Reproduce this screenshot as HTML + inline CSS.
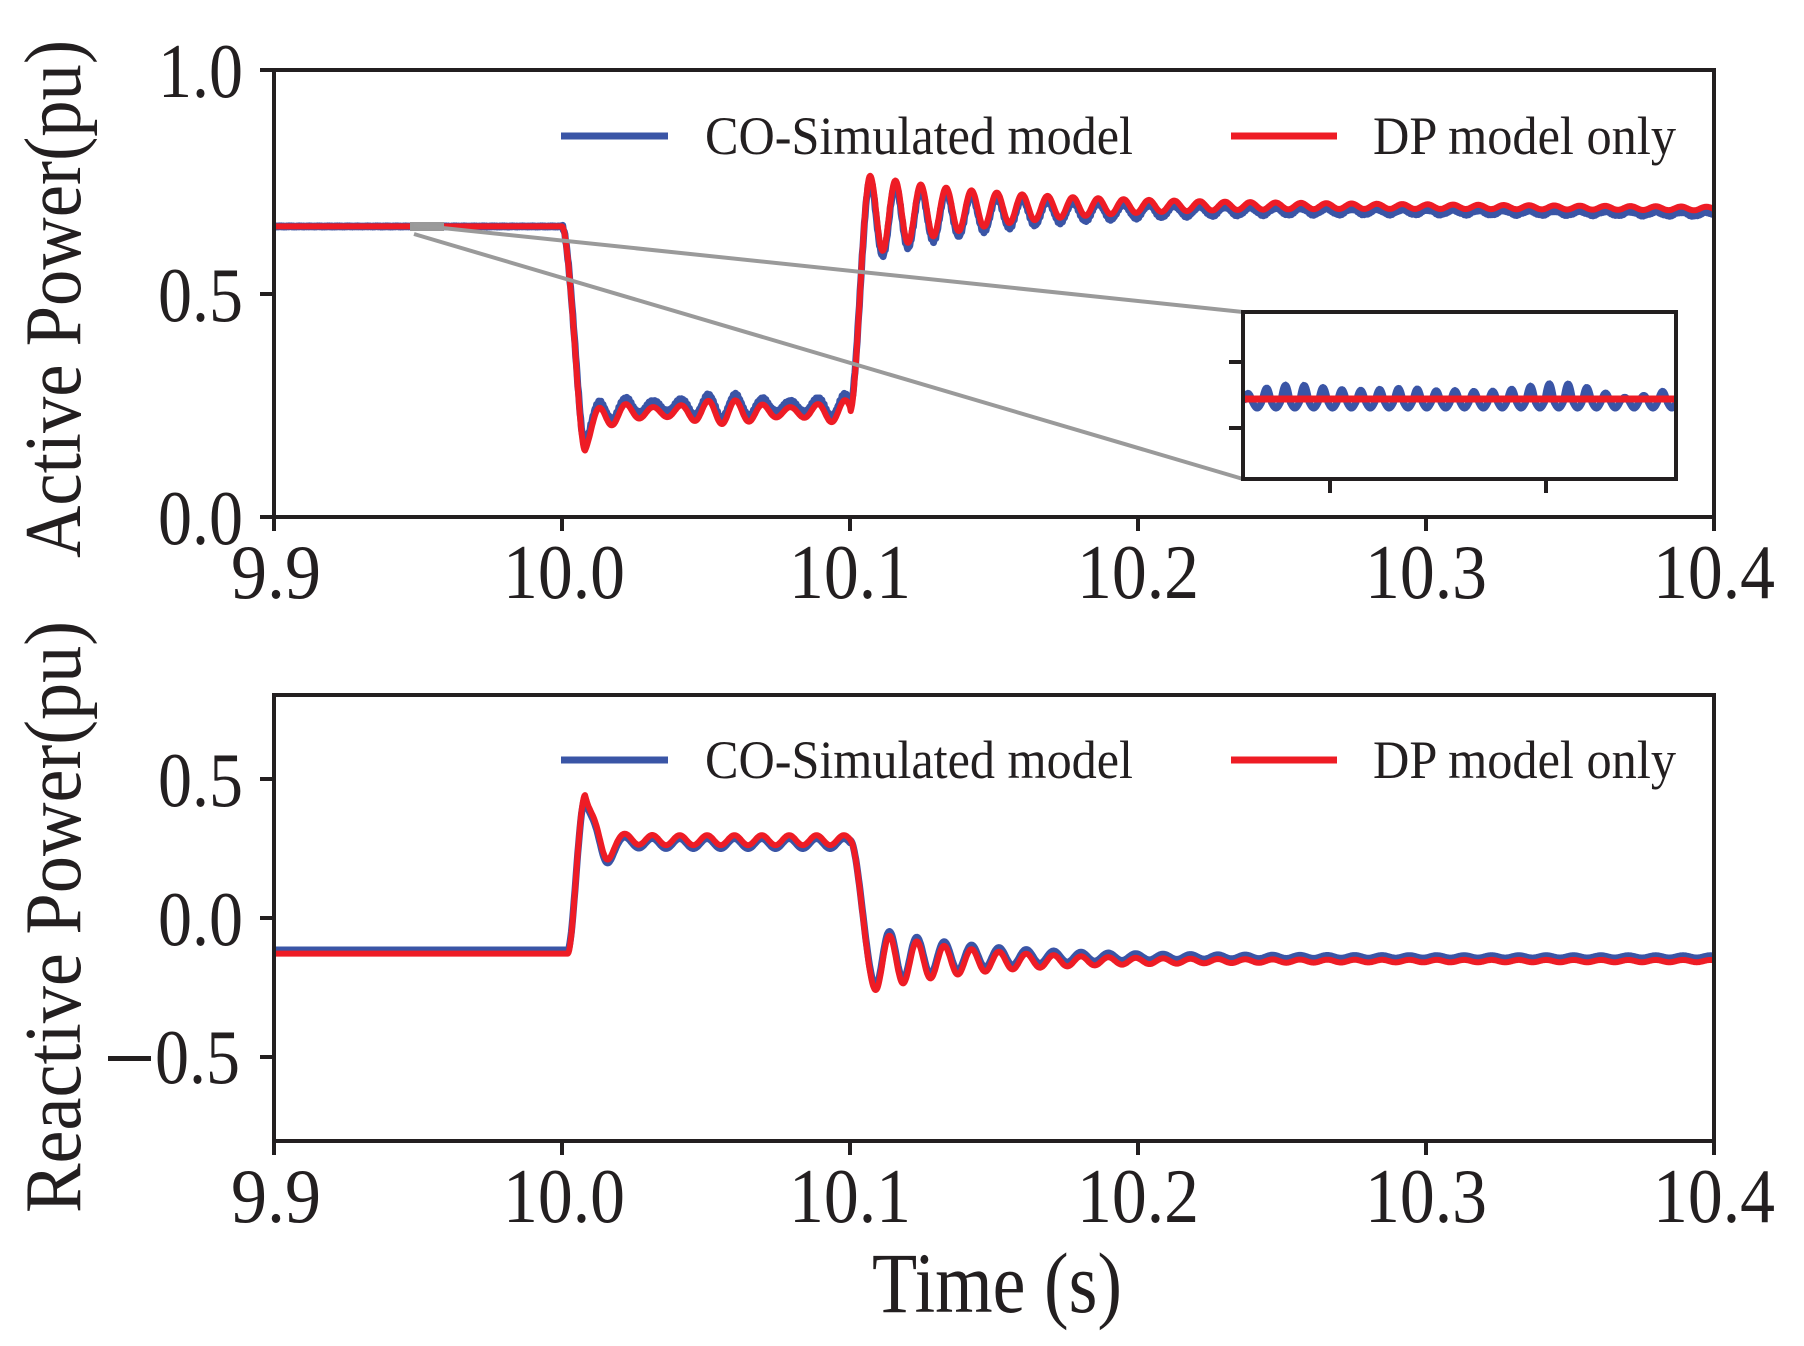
<!DOCTYPE html>
<html><head><meta charset="utf-8"><style>
html,body{margin:0;padding:0;background:#fff;}
svg{display:block;}
text{font-family:"Liberation Serif",serif;fill:#231f20;}
</style></head><body>
<svg id="s" width="1804" height="1346" viewBox="0 0 1804 1346" xmlns="http://www.w3.org/2000/svg">
<defs>
<clipPath id="c1"><rect x="274" y="70" width="1440" height="447"/></clipPath>
<clipPath id="c2"><rect x="274" y="695" width="1440" height="446"/></clipPath>
<clipPath id="c3"><rect x="1243" y="312" width="433" height="167"/></clipPath>
</defs>
<g id="plots"></g>
<rect x="410" y="222" width="34" height="9" fill="#999"/>
<line x1="414" y1="225" x2="1243" y2="312" stroke="#9a9a9a" stroke-width="4"/>
<line x1="414" y1="234" x2="1243" y2="479" stroke="#9a9a9a" stroke-width="4"/>
<rect x="1243" y="312" width="433" height="167" fill="#fff"/>
<g id="inset" clip-path="url(#c3)"></g>
<rect x="1243" y="312" width="433" height="167" fill="none" stroke="#231f20" stroke-width="4"/>
<g stroke="#231f20" stroke-width="4">
<line x1="1229" y1="362" x2="1243" y2="362"/><line x1="1229" y1="428" x2="1243" y2="428"/>
<line x1="1330" y1="479" x2="1330" y2="493"/><line x1="1546" y1="479" x2="1546" y2="493"/>
</g>
<rect x="274" y="70" width="1440" height="447" fill="none" stroke="#231f20" stroke-width="4"/>
<rect x="274" y="695" width="1440" height="446" fill="none" stroke="#231f20" stroke-width="4"/>
<g stroke="#231f20" stroke-width="4">
<line x1="260" y1="70" x2="274" y2="70"/><line x1="260" y1="294" x2="274" y2="294"/><line x1="260" y1="517" x2="274" y2="517"/>
<line x1="260" y1="779" x2="274" y2="779"/><line x1="260" y1="918" x2="274" y2="918"/><line x1="260" y1="1057" x2="274" y2="1057"/>
<line x1="274" y1="517" x2="274" y2="531"/><line x1="562" y1="517" x2="562" y2="531"/><line x1="850" y1="517" x2="850" y2="531"/><line x1="1138" y1="517" x2="1138" y2="531"/><line x1="1426" y1="517" x2="1426" y2="531"/><line x1="1714" y1="517" x2="1714" y2="531"/>
<line x1="274" y1="1141" x2="274" y2="1155"/><line x1="562" y1="1141" x2="562" y2="1155"/><line x1="850" y1="1141" x2="850" y2="1155"/><line x1="1138" y1="1141" x2="1138" y2="1155"/><line x1="1426" y1="1141" x2="1426" y2="1155"/><line x1="1714" y1="1141" x2="1714" y2="1155"/>
</g>
<g font-size="77" text-anchor="end">
<text x="243" y="97" textLength="85" lengthAdjust="spacingAndGlyphs">1.0</text><text x="243" y="321" textLength="85" lengthAdjust="spacingAndGlyphs">0.5</text><text x="243" y="544" textLength="85" lengthAdjust="spacingAndGlyphs">0.0</text>
<text x="243" y="806" textLength="85" lengthAdjust="spacingAndGlyphs">0.5</text><text x="243" y="945" textLength="85" lengthAdjust="spacingAndGlyphs">0.0</text><text x="240" y="1083" textLength="85" lengthAdjust="spacingAndGlyphs">0.5</text>
</g>
<rect x="108" y="1056" width="43" height="5" fill="#231f20"/>
<g font-size="77" text-anchor="middle">
<text x="276" y="598" textLength="90" lengthAdjust="spacingAndGlyphs">9.9</text><text x="564" y="598" textLength="122" lengthAdjust="spacingAndGlyphs">10.0</text><text x="850" y="598" textLength="122" lengthAdjust="spacingAndGlyphs">10.1</text><text x="1138" y="598" textLength="122" lengthAdjust="spacingAndGlyphs">10.2</text><text x="1426" y="598" textLength="122" lengthAdjust="spacingAndGlyphs">10.3</text><text x="1714" y="598" textLength="122" lengthAdjust="spacingAndGlyphs">10.4</text>
<text x="276" y="1222" textLength="90" lengthAdjust="spacingAndGlyphs">9.9</text><text x="564" y="1222" textLength="122" lengthAdjust="spacingAndGlyphs">10.0</text><text x="850" y="1222" textLength="122" lengthAdjust="spacingAndGlyphs">10.1</text><text x="1138" y="1222" textLength="122" lengthAdjust="spacingAndGlyphs">10.2</text><text x="1426" y="1222" textLength="122" lengthAdjust="spacingAndGlyphs">10.3</text><text x="1714" y="1222" textLength="122" lengthAdjust="spacingAndGlyphs">10.4</text>
</g>
<text x="997" y="1312" font-size="86" text-anchor="middle" textLength="250" lengthAdjust="spacingAndGlyphs">Time (s)</text>
<text transform="translate(80,299) rotate(-90)" font-size="80" text-anchor="middle" textLength="518" lengthAdjust="spacingAndGlyphs">Active Power(pu)</text>
<text transform="translate(80,917) rotate(-90)" font-size="80" text-anchor="middle" textLength="592" lengthAdjust="spacingAndGlyphs">Reactive Power(pu)</text>
<g stroke-width="7">
<line x1="561" y1="136" x2="668" y2="136" stroke="#3a55a6"/><line x1="1231" y1="136" x2="1337" y2="136" stroke="#ee1c25"/>
<line x1="561" y1="760" x2="668" y2="760" stroke="#3a55a6"/><line x1="1231" y1="760" x2="1337" y2="760" stroke="#ee1c25"/>
</g>
<g font-size="54">
<text x="705" y="154" textLength="428" lengthAdjust="spacingAndGlyphs">CO-Simulated model</text><text x="1373" y="154" textLength="303" lengthAdjust="spacingAndGlyphs">DP model only</text>
<text x="705" y="778" textLength="428" lengthAdjust="spacingAndGlyphs">CO-Simulated model</text><text x="1373" y="778" textLength="303" lengthAdjust="spacingAndGlyphs">DP model only</text>
</g>
</svg>
<script>
function sm(a,b,t){var u=Math.min(1,Math.max(0,(t-a)/(b-a)));return u*u*(3-2*u);}
function P(t,blue){
 var v;
 if(t<10.0) v=0.65;
 else if(t<10.1){
  var d=sm(10.0,10.008,t);
  var osc=0.235+(blue?0.012:0)+0.027*Math.sin(2*Math.PI*(t-10.008)/0.0095-Math.PI/2)*(0.7+0.3*Math.sin(2*Math.PI*(t-10.0)/0.045));
  var dip=-0.06*Math.exp(-Math.max(0,t-10.008)/0.004);
  v=0.65*(1-d)+(osc+dip)*d;
 } else {
  var r=sm(10.1,10.107,t);
  var base=0.705-0.035*Math.exp(-(t-10.1)/0.05)-0.015*(t-10.1)/0.3-(blue?0.01:0);
  var A=0.085*Math.exp(-(t-10.107)/0.045)+0.004;
  var osc2=base+A*Math.cos(2*Math.PI*Math.max(0,t-10.107)/0.0088);
  var pre=0.235+(blue?0.012:0);
  v=pre*(1-r)+osc2*r;
 }
 if(blue) v+=0.004*Math.sin(t*9000)*(t<10.0?0.3:1);
 return v;
}
function Q(t,blue){
 var v;
 var pre=blue?-0.115:-0.128;
 if(t<10.002) v=pre;
 else if(t<10.1){
  var d=sm(10.002,10.008,t);
  var peak=0.18*Math.exp(-Math.max(0,t-10.008)/0.004);
  var dip=-0.09*Math.exp(-Math.pow((t-10.015)/0.003,2));
  var osc=0.28-(blue?0.012:0)+0.018*Math.sin(2*Math.PI*(t-10.01)/0.0095);
  v=pre*(1-d)+(osc+peak+dip)*d;
 } else {
  var r=sm(10.1,10.109,t);
  var base=(blue?-0.14:-0.155);
  var A=0.1*Math.exp(-(t-10.109)/0.035)+0.004;
  var osc2=base-A*Math.cos(2*Math.PI*Math.max(0,t-10.109)/0.0095);
  v=(0.28)*(1-r)+osc2*r;
 }
 return v;
}
function path(f,blue,X,Y){
 var s="";for(var t=9.9;t<=10.4;t+=0.00025){s+=(s?"L":"M")+X(t).toFixed(1)+","+Y(f(t,blue)).toFixed(1);}return s;
}
var X=function(t){return 274+(t-9.9)*2880;};
var Yt=function(v){return 517-v*447;};
var Yb=function(v){return 918-v*278;};
var g=document.getElementById("plots");
g.innerHTML='<g clip-path="url(#c1)"><path d="'+path(P,1,X,Yt)+'" fill="none" stroke="#3a55a6" stroke-width="7" stroke-linejoin="round"/>'+
'<path d="'+path(P,0,X,Yt)+'" fill="none" stroke="#ee1c25" stroke-width="6" stroke-linejoin="round"/></g>'+
'<g clip-path="url(#c2)"><path d="'+path(Q,1,X,Yb)+'" fill="none" stroke="#3a55a6" stroke-width="7" stroke-linejoin="round"/>'+
'<path d="'+path(Q,0,X,Yb)+'" fill="none" stroke="#ee1c25" stroke-width="6" stroke-linejoin="round"/></g>';
var s="";
for(var x=1243;x<=1676;x+=0.5){
 var env=7+9*Math.abs(Math.sin((x-1243)/60))+4*Math.sin((x-1243)/23);
 var ph=Math.sin((x-1243)/3);
 var y=402-env*Math.max(0,ph)+6*Math.max(0,-ph);
 s+=(s?"L":"M")+x+","+y.toFixed(1);
}
document.getElementById("inset").innerHTML='<path d="'+s+'" fill="none" stroke="#3a55a6" stroke-width="7"/><line x1="1243" y1="399" x2="1676" y2="399" stroke="#ee1c25" stroke-width="7"/>';
</script>
</body></html>
